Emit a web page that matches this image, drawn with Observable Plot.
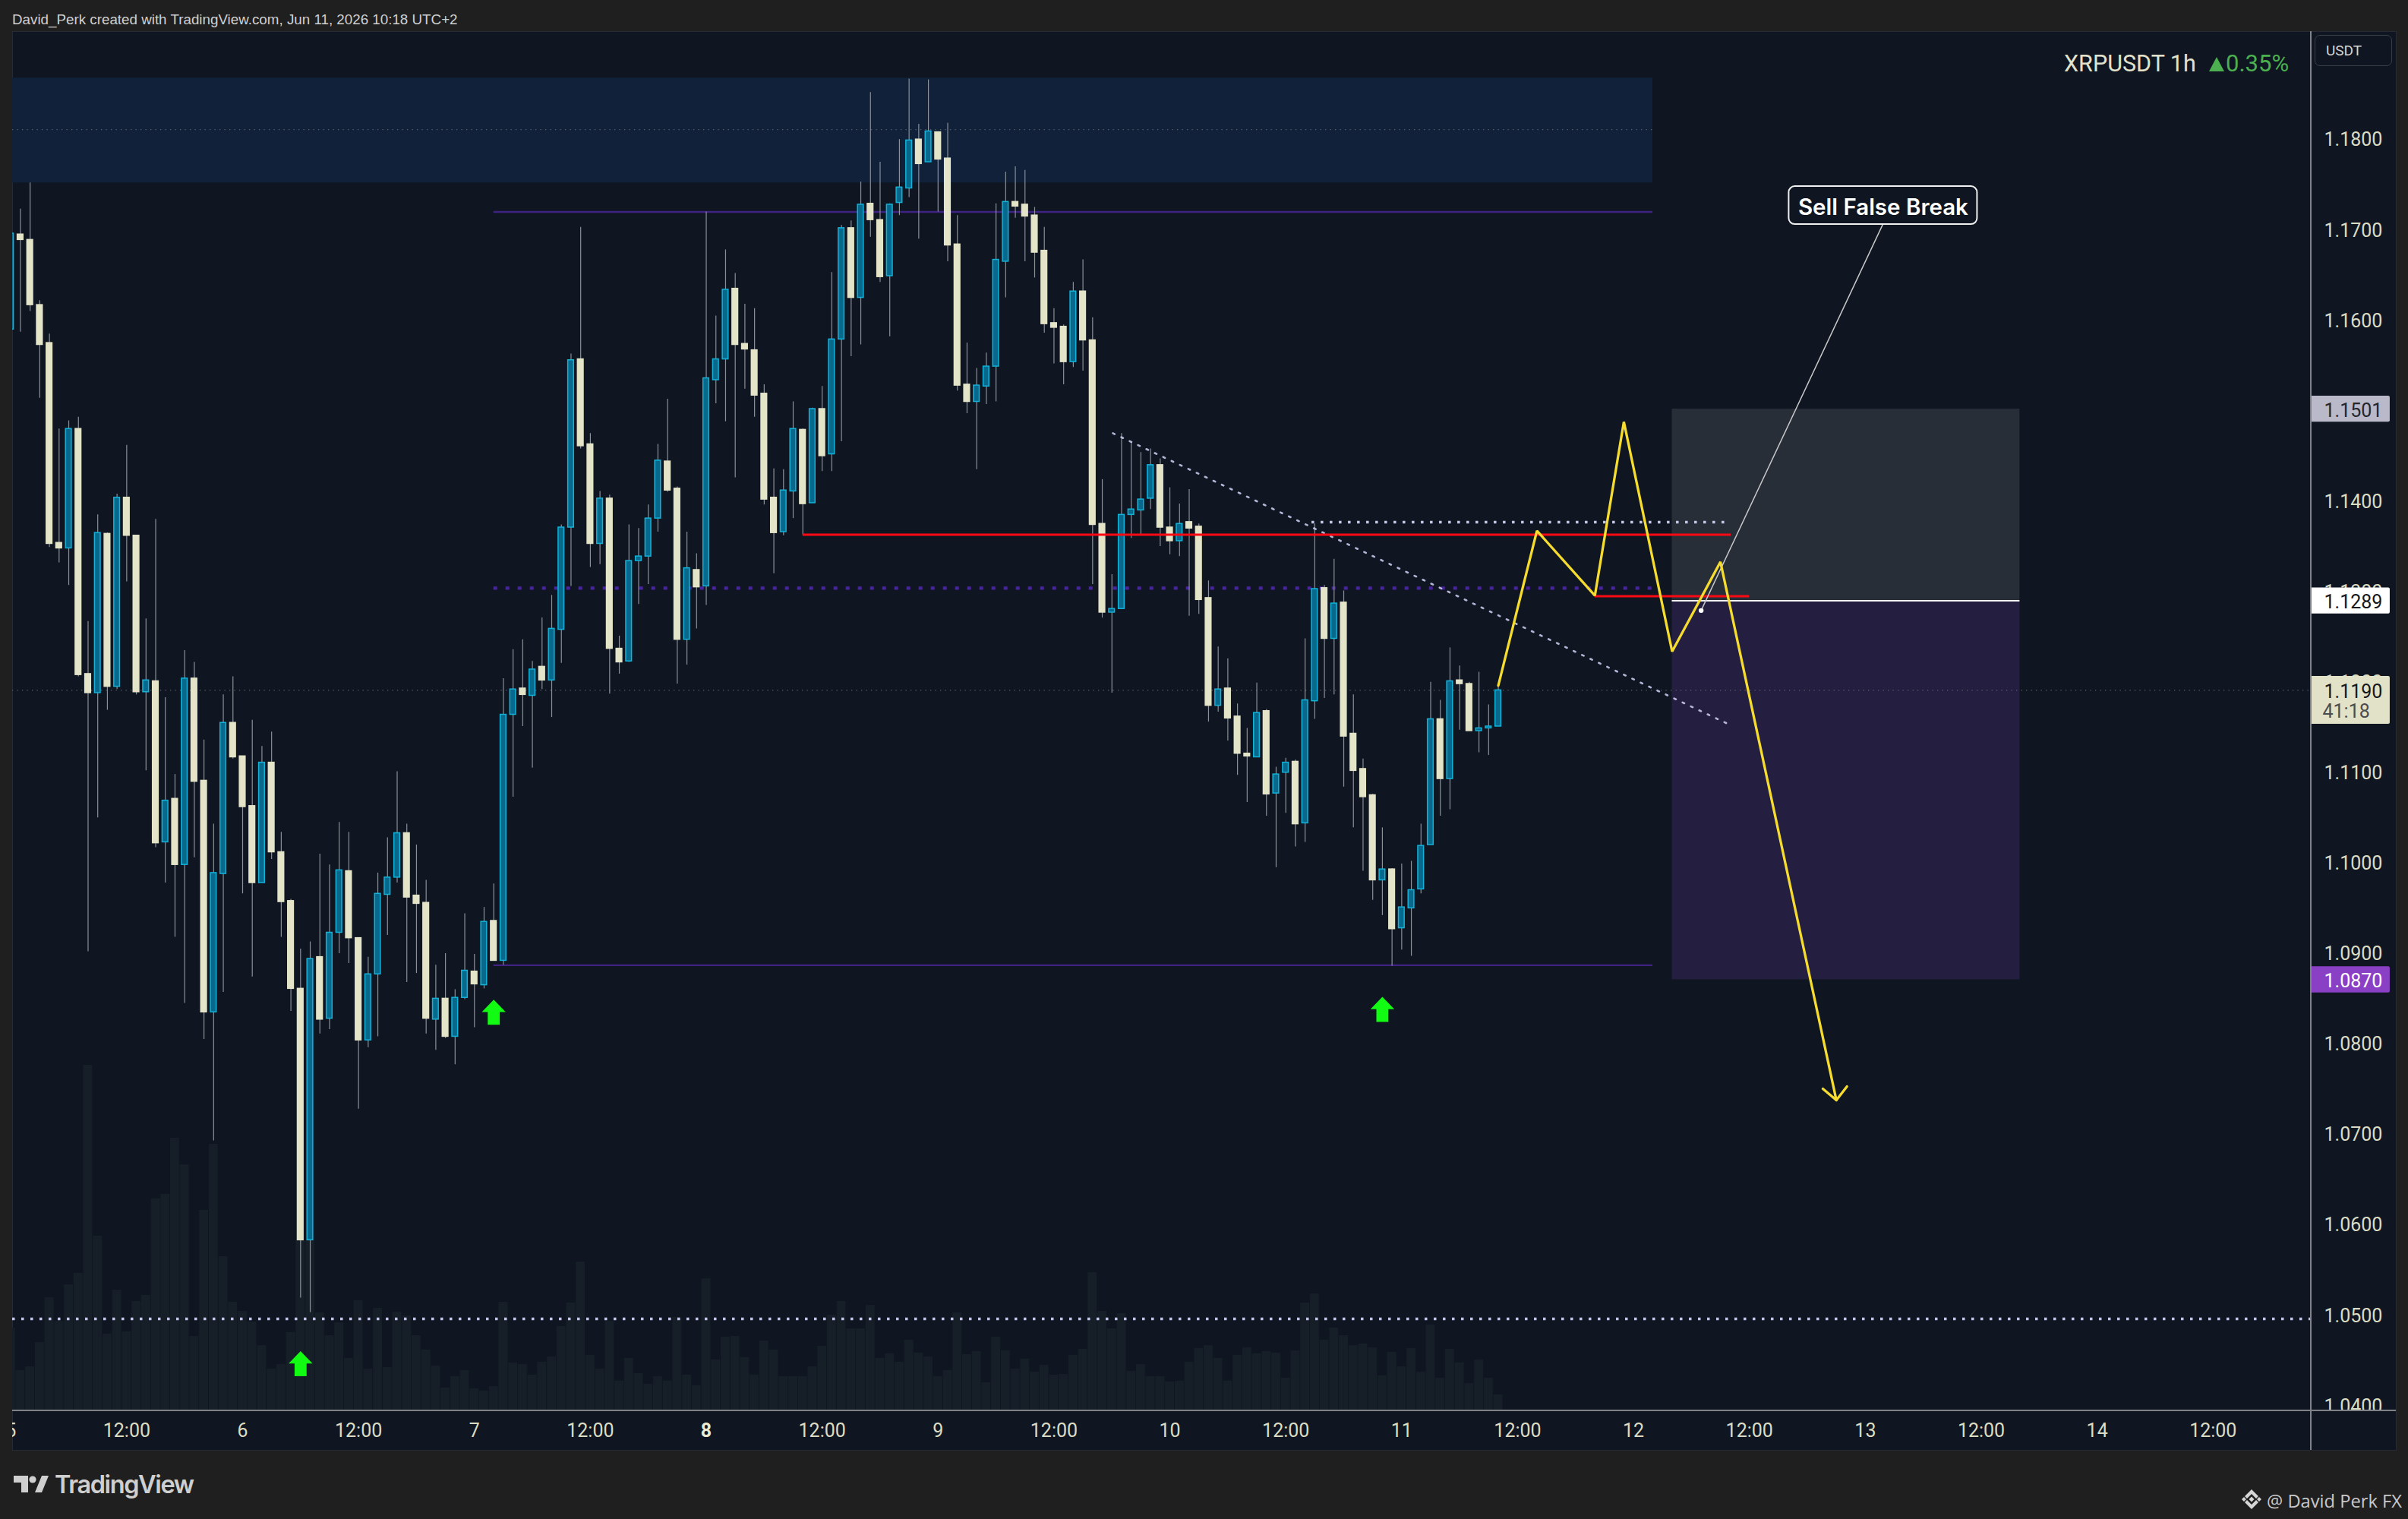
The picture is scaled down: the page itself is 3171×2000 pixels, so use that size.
<!DOCTYPE html>
<html>
<head>
<meta charset="utf-8">
<script src="https://cdn.jsdelivr.net/npm/d3@7"></script>
<script src="https://cdn.jsdelivr.net/npm/@observablehq/plot@0.6"></script>
<style>
html,body{margin:0;padding:0;background:#1f1f1f;width:3171px;height:2000px;overflow:hidden;font-family:Roboto,sans-serif}
.abs{position:absolute;white-space:nowrap}
#chart{position:absolute;left:0;top:0;z-index:1}
</style>
</head>
<body>
<div class="abs" style="left:16px;top:41px;width:3138px;height:1867px;background:#0f1621;border:1px solid #252a35;box-sizing:content-box;z-index:0"></div>
<div id="chart"></div>
<div class="abs" style="left:0;top:0;width:16px;height:2000px;background:#1f1f1f;z-index:2"></div>
<div class="abs" style="left:3043px;top:1857px;width:112px;height:52px;background:#0f1621;z-index:2"></div>
<div class="abs" style="left:3042px;top:41px;width:1.5px;height:1868px;background:#7f8388;z-index:3"></div>
<div class="abs" style="left:16px;top:1856px;width:3139px;height:1.5px;background:#7f8388;z-index:3"></div>
<div class="abs" style="left:16px;top:15px;font:18.8px 'Liberation Sans',sans-serif;color:#cfcfcf;z-index:3">David_Perk created with TradingView.com, Jun 11, 2026 10:18 UTC+2</div>
<div class="abs" style="left:2718px;top:66px;font:400 30.5px Roboto,sans-serif;color:#e2e2cc;z-index:3">XRPUSDT 1h</div>
<div class="abs" style="left:2909px;top:65px;font:400 31px Roboto,sans-serif;color:#4caf50;z-index:3"><span style="display:inline-block;width:0;height:0;border-left:10px solid transparent;border-right:10px solid transparent;border-bottom:19px solid #4caf50;margin-right:2px"></span>0.35%</div>
<div class="abs" style="left:3048px;top:46px;width:102px;height:41px;border:1px solid #3a3f47;border-radius:7px;box-sizing:border-box;font:19px 'Roboto',sans-serif;color:#d4d4d4;line-height:39px;padding-left:14px;z-index:3">USDT</div>
<svg class="abs" style="left:0;top:1930px;z-index:3" width="70" height="50" viewBox="0 1930 70 50">
  <path d="M18 1943h19v22h-9v-13h-10z M46 1965l9-22h9l-9 22z" fill="#cfcfcf"/>
  <circle cx="43" cy="1948" r="4.6" fill="#cfcfcf"/>
</svg>
<div class="abs" style="left:72px;top:1935px;font:600 32.5px Inter,sans-serif;letter-spacing:-1.4px;color:#cfcfcf;z-index:3">TradingView</div>
<svg class="abs" style="left:2948px;top:1958px;z-index:3" width="34" height="32" viewBox="0 0 34 32">
  <g fill="#d6d6d6">
    <path d="M17 3l9 9-3 3-6-6-6 6-3-3z"/>
    <path d="M17 29l9-9-3-3-6 6-6-6-3 3z"/>
    <path d="M4 16l3-3 3 3-3 3z M24 16l3-3 3 3-3 3z M17 12.5l3.500 3.500-3.500 3.500-3.500-3.500z"/>
  </g>
</svg>
<div class="abs" style="left:2985px;top:1960px;font:400 23.7px 'Open Sans',sans-serif;color:#c8c8c8;z-index:3">@ David Perk FX</div>

<script>
// Hourly candles, index 0 = day 5 00:00
const open = [1.1589,1.1694,1.1688,1.1616,1.1574,1.1353,1.1347,1.1479,1.1208,1.1187,1.1363,1.1194,1.1403,1.1361,1.1188,1.1200,1.1022,1.1070,1.0997,1.1203,1.1090,1.0834,1.0987,1.1154,1.1117,1.1062,1.0977,1.1110,1.1011,1.0957,1.0860,1.0582,1.0895,1.0827,1.0922,1.0990,1.0916,1.0803,1.0876,1.0964,1.0983,1.1032,1.0963,1.0955,1.0826,1.0849,1.0807,1.0850,1.0879,1.0864,1.0935,1.0891,1.1163,1.1192,1.1184,1.1216,1.1201,1.1257,1.1370,1.1556,1.1462,1.1352,1.1402,1.1236,1.1222,1.1333,1.1338,1.1380,1.1443,1.1413,1.1246,1.1323,1.1305,1.1533,1.1556,1.1634,1.1573,1.1566,1.1518,1.1403,1.1365,1.1410,1.1478,1.1397,1.1501,1.1451,1.1578,1.1701,1.1624,1.1728,1.1710,1.1648,1.1729,1.1745,1.1799,1.1774,1.1807,1.1778,1.1683,1.1528,1.1509,1.1526,1.1548,1.1664,1.1730,1.1727,1.1715,1.1676,1.1596,1.1592,1.1553,1.1631,1.1577,1.1374,1.1276,1.1280,1.1384,1.1389,1.1402,1.1439,1.1370,1.1355,1.1376,1.1371,1.1292,1.1173,1.1192,1.1161,1.1120,1.1116,1.1167,1.1076,1.1099,1.1111,1.1043,1.1178,1.1303,1.1247,1.1287,1.1142,1.1103,1.1074,1.0980,1.0992,1.0927,1.0949,1.0970,1.1019,1.1158,1.1092,1.1201,1.1197,1.1145,1.1148,1.1150];
const high = [1.1695,1.1722,1.1751,1.1621,1.1584,1.1479,1.1488,1.1492,1.1266,1.1384,1.1364,1.1407,1.1461,1.1361,1.1269,1.1379,1.1182,1.1097,1.1234,1.1221,1.1135,1.1042,1.1185,1.1205,1.1117,1.1157,1.1128,1.1144,1.1033,1.0959,1.0904,1.0912,1.1009,1.0997,1.1044,1.1033,1.0916,1.0895,1.0988,1.1027,1.1100,1.1042,1.1019,1.0980,1.0886,1.0899,1.0859,1.0943,1.0898,1.0950,1.0976,1.1203,1.1235,1.1246,1.1222,1.1270,1.1295,1.1373,1.1562,1.1702,1.1474,1.1410,1.1406,1.1250,1.1373,1.1369,1.1395,1.1462,1.1512,1.1415,1.1365,1.1341,1.1719,1.1604,1.1677,1.1651,1.1617,1.1612,1.1528,1.1435,1.1434,1.1509,1.1479,1.1502,1.1526,1.1652,1.1704,1.1709,1.1752,1.1851,1.1774,1.1728,1.1799,1.1866,1.1816,1.1865,1.1807,1.1817,1.1715,1.1574,1.1546,1.1563,1.1728,1.1763,1.1769,1.1765,1.1724,1.1702,1.1612,1.1594,1.1641,1.1666,1.1602,1.1423,1.1318,1.1474,1.1464,1.1453,1.1457,1.1446,1.1414,1.1396,1.1412,1.1374,1.1311,1.1238,1.1225,1.1175,1.1148,1.1198,1.1169,1.1105,1.1115,1.1113,1.1247,1.1374,1.1306,1.1335,1.1300,1.1185,1.1114,1.1075,1.1038,1.0993,1.0998,1.1001,1.1042,1.1199,1.1179,1.1237,1.1217,1.1199,1.1210,1.1174,1.1194];
const low = [1.1589,1.1586,1.1609,1.1513,1.1348,1.1331,1.1306,1.1205,1.0901,1.1049,1.1168,1.1191,1.1310,1.1185,1.1101,1.1016,1.0977,1.0917,1.0844,1.1005,1.0804,1.0692,1.0856,1.1114,1.0965,1.0873,1.0977,1.1003,1.0917,1.0835,1.0518,1.0502,1.0810,1.0815,1.0899,1.0888,1.0727,1.0795,1.0807,1.0919,1.0977,1.0867,1.0877,1.0810,1.0792,1.0805,1.0776,1.0848,1.0817,1.0860,1.0891,1.0886,1.1072,1.1150,1.1104,1.1191,1.1160,1.1220,1.1305,1.1457,1.1326,1.1329,1.1186,1.1208,1.1221,1.1285,1.1307,1.1365,1.1409,1.1197,1.1218,1.1258,1.1284,1.1507,1.1487,1.1425,1.1523,1.1492,1.1395,1.1319,1.1361,1.1380,1.1362,1.1397,1.1432,1.1432,1.1465,1.1559,1.1572,1.1691,1.1641,1.1581,1.1715,1.1735,1.1689,1.1774,1.1719,1.1664,1.1521,1.1496,1.1434,1.1506,1.1509,1.1624,1.1712,1.1664,1.1646,1.1585,1.1551,1.1528,1.1547,1.1543,1.1307,1.1270,1.1187,1.1280,1.1358,1.1361,1.1390,1.1349,1.1340,1.1338,1.1272,1.1274,1.1155,1.1166,1.1134,1.1096,1.1066,1.1116,1.1051,1.0994,1.1054,1.1017,1.1022,1.1158,1.1181,1.1185,1.1083,1.1038,1.0990,1.0958,1.0941,1.0885,1.0903,1.0896,1.0965,1.1019,1.1051,1.1058,1.1146,1.1145,1.1121,1.1118,1.1150];
const close = [1.1695,1.1688,1.1616,1.1572,1.1352,1.1347,1.1479,1.1207,1.1187,1.1364,1.1194,1.1403,1.1361,1.1188,1.1201,1.1021,1.1068,1.0997,1.1203,1.1089,1.0834,1.0988,1.1154,1.1116,1.1061,1.0977,1.1110,1.1011,1.0956,1.0860,1.0582,1.0893,1.0826,1.0922,1.0991,1.0916,1.0803,1.0876,1.0965,1.0983,1.1032,1.0961,1.0954,1.0827,1.0849,1.0807,1.0850,1.0880,1.0865,1.0934,1.0891,1.1163,1.1191,1.1185,1.1213,1.1201,1.1258,1.1370,1.1555,1.1460,1.1352,1.1402,1.1236,1.1221,1.1333,1.1338,1.1380,1.1444,1.1411,1.1246,1.1325,1.1304,1.1535,1.1556,1.1633,1.1572,1.1567,1.1516,1.1401,1.1364,1.1411,1.1479,1.1396,1.1501,1.1449,1.1578,1.1701,1.1624,1.1727,1.1710,1.1647,1.1727,1.1746,1.1798,1.1772,1.1808,1.1777,1.1682,1.1527,1.1509,1.1527,1.1548,1.1666,1.1730,1.1725,1.1714,1.1674,1.1595,1.1591,1.1553,1.1631,1.1577,1.1373,1.1276,1.1280,1.1384,1.1390,1.1401,1.1439,1.1370,1.1355,1.1374,1.1369,1.1290,1.1173,1.1191,1.1159,1.1120,1.1117,1.1165,1.1075,1.1097,1.1110,1.1042,1.1179,1.1302,1.1247,1.1286,1.1139,1.1101,1.1072,1.0980,1.0992,1.0926,1.0950,1.0969,1.1018,1.1158,1.1092,1.1200,1.1197,1.1145,1.1148,1.1150,1.1190];
const volume = [108,52,57,89,148,117,165,180,454,229,100,158,103,143,151,278,284,358,323,97,263,350,202,142,130,116,85,54,60,102,223,223,128,98,115,68,144,54,134,56,129,124,98,79,58,29,44,52,28,25,31,142,62,60,46,63,70,110,141,195,72,54,117,38,68,48,34,44,38,122,46,32,173,66,96,97,69,46,91,79,44,44,44,57,84,125,143,107,107,138,68,74,63,92,75,70,44,52,128,73,77,36,96,78,54,67,50,59,46,47,72,80,181,130,107,127,51,60,44,44,37,38,63,81,85,68,38,72,82,74,77,75,42,78,141,153,92,108,98,85,87,82,45,76,57,81,50,112,42,80,62,35,66,42,20];

// Scale extents
const priceMin = 1.03942, priceMax = 1.19184;
const hourMin = 0.179, hourMax = 238.08;
const volumeToPrice = 0.00008398;

// Axis ticks
const priceTicks = [1.04,1.05,1.06,1.07,1.08,1.09,1.10,1.11,1.12,1.13,1.14,1.15,1.16,1.17,1.18];
const timeTicks = [0,12,24,36,48,60,84,96,108,120,132,144,156,168,180,192,204,216,228];
const boldTimeTicks = [72];
const timeLabel = h => h % 24 === 12 ? "12:00" : String(5 + h / 24);

// Drawn zones and levels
const supplyZone = [{t1: hourMin, t2: 170, p1: 1.1751, p2: 1.1867}];
const riskBox = [{t1: 172, t2: 208, p1: 1.1289, p2: 1.1501}];
const rewardBox = [{t1: 172, t2: 208, p1: 1.0870, p2: 1.1289}];
const entryLine = [{t1: 172, t2: 208, p: 1.1289}];
const purpleSolid = [{t1: 50, t2: 170, p: 1.1719}, {t1: 50, t2: 170, p: 1.0886}];
const purpleDotted = [{t1: 50, t2: 170, p: 1.1303}];
const faintDotted = [{t1: hourMin, t2: 170, p: 1.1810}, {t1: hourMin, t2: hourMax, p: 1.1190}];
const redLevels = [{t1: 82, t2: 178.1, p: 1.1362}, {t1: 164, t2: 180, p: 1.1294}];
const lightDottedLevels = [{t1: 134.7, t2: 177.6, p: 1.1376}, {t1: hourMin, t2: hourMax, p: 1.0495}];
const trendLine = [{t: 114.1, p: 1.14742}, {t: 178, p: 1.11517}];
const projection = [{t:154,p:1.11953},{t:158,p:1.13664},{t:164,p:1.12947},{t:167,p:1.14868},{t:172,p:1.12329},{t:177,p:1.1332},{t:189,p:1.07368}];
const arrowHead = [{t:187.6,p:1.07494},{t:189,p:1.07368},{t:190.1,p:1.07520}];
const callout = [{t:175,p:1.12782},{t:193.8,p:1.1705}];
const calloutBox = [{t1:184.1,t2:203.6,p1:1.1705,p2:1.1747}];
const calloutText = [{t:193.85,p:1.1725,text:"Sell False Break"}];
const greenArrows = [{t:30,p:1.04454},{t:50,p:1.0834},{t:142,p:1.08372}];
const tagWidth = 8.25;
const priceTags = [
  {p1:1.14866,p2:1.15154,fill:"#b9b9c9"},
  {p1:1.12745,p2:1.13033,fill:"#ffffff"},
  {p1:1.11525,p2:1.12055,fill:"#e2e2c9"},
  {p1:1.08555,p2:1.08845,fill:"#8a40c4"}
];
const priceTagText = [
  {p:1.1501,text:"1.1501",fill:"#24262c"},
  {p:1.1289,text:"1.1289",fill:"#15171c"},
  {p:1.1190,text:"1.1190",fill:"#15171c"},
  {p:1.0870,text:"1.0870",fill:"#ffffff"}
];
const countdownText = [{p:1.1167,text:"41:18",fill:"#4a4c50"}];

const rows = open.map((o, i) => ({t: i, o, h: high[i], l: low[i], c: close[i], v: volume[i], up: close[i] >= o}));
const upSymbol = {draw(ctx, size) {
  const r = Math.sqrt(size / Math.PI);
  const hw = r * 0.95, sw = r * 0.48, mid = r * -0.02;
  ctx.moveTo(0, -r); ctx.lineTo(hw, mid); ctx.lineTo(sw, mid); ctx.lineTo(sw, r);
  ctx.lineTo(-sw, r); ctx.lineTo(-sw, mid); ctx.lineTo(-hw, mid); ctx.closePath();
}};

const cream = "#e4e4c8", tealFill = "#08698c", tealEdge = "#12b2d9", dotColor = "#c6c6ea";
const dotted = {strokeWidth: 3.5, strokeDasharray: "3.5,8.5", stroke: dotColor};
const plot = Plot.plot({
  width: 3171, height: 2000,
  marginLeft: 16, marginRight: 129, marginTop: 41, marginBottom: 144,
  x: {type: "linear", domain: [hourMin, hourMax]},
  y: {type: "linear", domain: [priceMin, priceMax]},
  style: {background: "transparent", fontFamily: "Roboto, sans-serif", overflow: "visible"},
  marks: [
    Plot.rect(rows, {x1: d => d.t - 0.47, x2: d => d.t + 0.47, y1: priceMin, y2: d => priceMin + d.v * volumeToPrice, fill: "#161e27", clip: true}),
    Plot.rect(supplyZone, {x1: "t1", x2: "t2", y1: "p1", y2: "p2", fill: "#102139"}),
    Plot.rect(riskBox, {x1: "t1", x2: "t2", y1: "p1", y2: "p2", fill: "#282e38"}),
    Plot.rect(rewardBox, {x1: "t1", x2: "t2", y1: "p1", y2: "p2", fill: "#241f41"}),
    Plot.ruleY(faintDotted, {y: "p", x1: "t1", x2: "t2", stroke: "#5a5f68", strokeWidth: 1.3, strokeDasharray: "1.3,5.2"}),
    Plot.ruleY(purpleSolid, {y: "p", x1: "t1", x2: "t2", stroke: "#3f2282", strokeWidth: 2.4}),
    Plot.ruleY(purpleDotted, {y: "p", x1: "t1", x2: "t2", stroke: "#4a249f", strokeWidth: 4.2, strokeDasharray: "5,11"}),
    Plot.ruleX(rows, {x: "t", y1: "l", y2: "h", stroke: "#8b9099", strokeWidth: 1.2, clip: true}),
    Plot.rect(rows, {x1: d => d.t - 0.3, x2: d => d.t + 0.3, y1: "o", y2: "c", fill: d => d.up ? tealFill : cream, stroke: d => d.up ? tealEdge : cream, strokeWidth: 1.5, clip: true}),
    Plot.ruleY(lightDottedLevels, {y: "p", x1: "t1", x2: "t2", ...dotted}),
    Plot.line(trendLine, {x: "t", y: "p", stroke: dotColor, strokeWidth: 2.6, strokeDasharray: "2.6,9.6", strokeOpacity: 0.9}),
    Plot.ruleY(entryLine, {y: "p", x1: "t1", x2: "t2", stroke: "#f2f2f2", strokeWidth: 2}),
    Plot.ruleY(redLevels, {y: "p", x1: "t1", x2: "t2", stroke: "#fb0a14", strokeWidth: 3}),
    Plot.line(callout, {x: "t", y: "p", stroke: "#c8c8c8", strokeWidth: 1.5}),
    Plot.dot(callout.slice(0, 1), {x: "t", y: "p", r: 3.2, fill: "#ffffff"}),
    Plot.line(projection, {x: "t", y: "p", stroke: "#f5dc2e", strokeWidth: 3.3, strokeLinejoin: "miter"}),
    Plot.line(arrowHead, {x: "t", y: "p", stroke: "#f5dc2e", strokeWidth: 3.3}),
    Plot.dot(greenArrows, {x: "t", y: "p", symbol: upSymbol, r: 16.5, fill: "#12fb12", stroke: "none"}),
    Plot.rect(calloutBox, {x1: "t1", x2: "t2", y1: "p1", y2: "p2", fill: "#0f1621", stroke: "#f0f0f0", strokeWidth: 2, rx: 8}),
    Plot.text(calloutText, {x: "t", y: "p", text: "text", fill: "#ffffff", fontSize: 29.5, fontWeight: 600, fontFamily: "Inter, sans-serif", dy: 2}),
    Plot.axisY({anchor: "right", ticks: priceTicks, tickFormat: d3.format(".4f"), tickSize: 0, tickPadding: 18, label: null, fontSize: 25, color: "#dcdcc4", dy: 2}),
    Plot.axisX({anchor: "bottom", ticks: timeTicks, tickFormat: timeLabel, tickSize: 0, tickPadding: 14, label: null, fontSize: 25, color: "#dcdcc4", dy: 4}),
    Plot.axisX({anchor: "bottom", ticks: boldTimeTicks, tickFormat: timeLabel, tickSize: 0, tickPadding: 14, label: null, fontSize: 25, fontWeight: 700, color: "#ecebd0", dy: 4}),
    Plot.rect(priceTags, {x1: hourMax, x2: hourMax + tagWidth, y1: "p1", y2: "p2", fill: "fill", rx: 2}),
    Plot.text(priceTagText, {x: hourMax, y: "p", text: "text", fill: "fill", dx: 18, dy: 2, textAnchor: "start", fontSize: 25}),
    Plot.text(countdownText, {x: hourMax, y: "p", text: "text", fill: "fill", dx: 16, dy: 1, textAnchor: "start", fontSize: 25})
  ]
});
document.getElementById("chart").appendChild(plot);
</script>
</body>
</html>
